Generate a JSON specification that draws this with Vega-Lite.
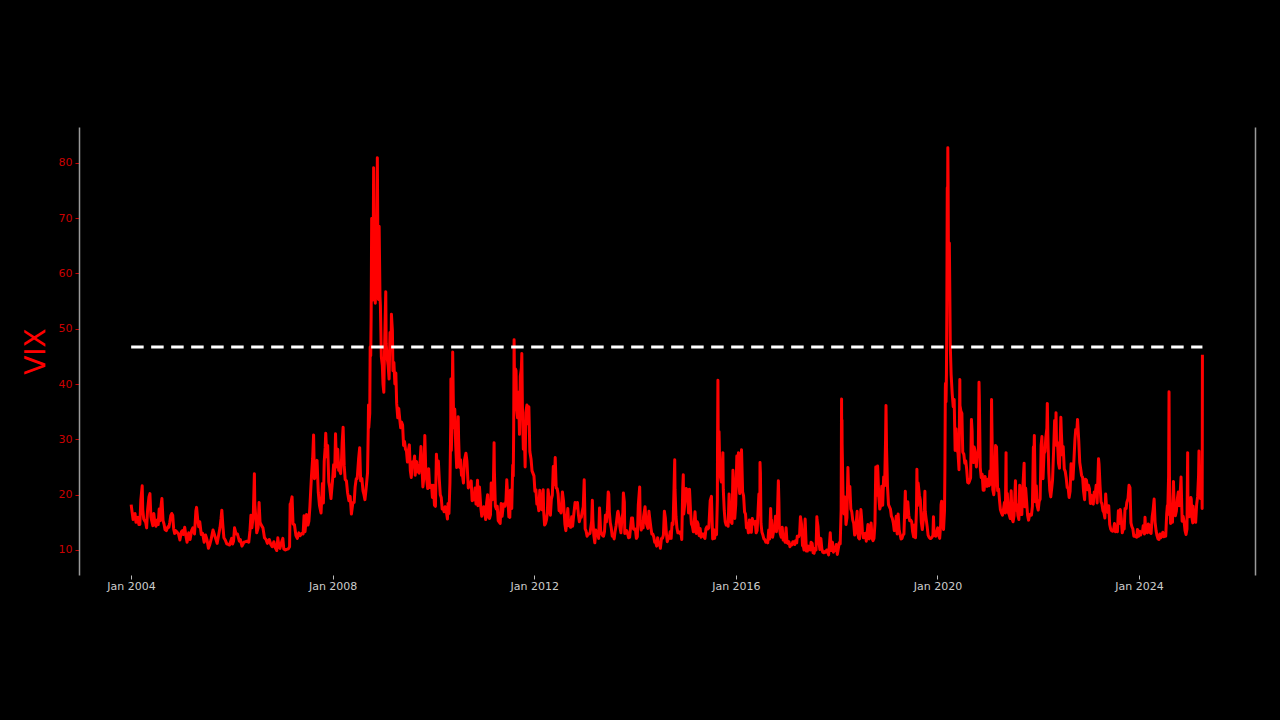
{
  "$schema": "https://vega.github.io/schema/vega-lite/v6.json",
  "autosize": "none",
  "width": 1176,
  "height": 448,
  "padding": {"left": 79, "top": 127, "right": 25, "bottom": 145},
  "background": "black",
  "config": {"view": {"stroke": null}},
  "datasets": {
    "vix": [
{"d":"2004-01-02","v":18.2},{"d":"2004-01-09","v":16.8},{"d":"2004-01-16","v":15.5},{"d":"2004-01-23","v":16.5},{"d":"2004-01-30","v":16.6},{"d":"2004-02-06","v":15.0},{"d":"2004-02-13","v":15.6},{"d":"2004-02-20","v":15.9},{"d":"2004-02-27","v":14.6},{"d":"2004-03-05","v":14.6},{"d":"2004-03-12","v":19.0},{"d":"2004-03-22","v":21.6},{"d":"2004-03-26","v":17.3},{"d":"2004-04-02","v":15.6},{"d":"2004-04-09","v":15.3},{"d":"2004-04-16","v":15.0},{"d":"2004-04-23","v":14.0},{"d":"2004-04-30","v":17.2},{"d":"2004-05-10","v":19.6},{"d":"2004-05-17","v":20.2},{"d":"2004-05-24","v":16.0},{"d":"2004-05-28","v":15.5},{"d":"2004-06-07","v":14.4},{"d":"2004-06-14","v":16.6},{"d":"2004-06-21","v":15.0},{"d":"2004-06-30","v":14.3},{"d":"2004-07-09","v":15.4},{"d":"2004-07-16","v":14.6},{"d":"2004-07-23","v":17.4},{"d":"2004-07-30","v":15.3},{"d":"2004-08-06","v":18.1},{"d":"2004-08-12","v":19.3},{"d":"2004-08-20","v":15.3},{"d":"2004-08-27","v":14.7},{"d":"2004-09-03","v":13.7},{"d":"2004-09-13","v":13.5},{"d":"2004-09-24","v":14.2},{"d":"2004-10-01","v":14.1},{"d":"2004-10-08","v":15.0},{"d":"2004-10-15","v":16.2},{"d":"2004-10-22","v":16.6},{"d":"2004-10-29","v":16.3},{"d":"2004-11-05","v":13.8},{"d":"2004-11-12","v":13.0},{"d":"2004-11-19","v":13.5},{"d":"2004-11-30","v":13.2},{"d":"2004-12-10","v":12.9},{"d":"2004-12-20","v":11.8},{"d":"2004-12-31","v":13.3},
{"d":"2005-01-07","v":13.5},{"d":"2005-01-14","v":12.8},{"d":"2005-01-24","v":14.1},{"d":"2005-01-31","v":12.8},{"d":"2005-02-10","v":11.4},{"d":"2005-02-22","v":13.1},{"d":"2005-03-04","v":11.9},{"d":"2005-03-15","v":13.5},{"d":"2005-03-24","v":14.0},{"d":"2005-04-05","v":12.9},{"d":"2005-04-15","v":17.1},{"d":"2005-04-20","v":17.7},{"d":"2005-04-29","v":15.3},{"d":"2005-05-06","v":14.2},{"d":"2005-05-13","v":15.1},{"d":"2005-05-24","v":12.8},{"d":"2005-06-03","v":13.0},{"d":"2005-06-14","v":11.4},{"d":"2005-06-24","v":12.7},{"d":"2005-07-05","v":11.8},{"d":"2005-07-15","v":10.3},{"d":"2005-07-25","v":11.0},{"d":"2005-08-05","v":12.1},{"d":"2005-08-17","v":13.6},{"d":"2005-08-26","v":12.9},{"d":"2005-09-06","v":12.0},{"d":"2005-09-16","v":11.2},{"d":"2005-09-27","v":12.7},{"d":"2005-10-07","v":14.1},{"d":"2005-10-14","v":15.6},{"d":"2005-10-20","v":17.2},{"d":"2005-10-27","v":14.6},{"d":"2005-11-04","v":12.2},{"d":"2005-11-14","v":11.8},{"d":"2005-11-25","v":11.1},{"d":"2005-12-05","v":11.0},{"d":"2005-12-15","v":10.9},{"d":"2005-12-30","v":12.1},
{"d":"2006-01-06","v":11.1},{"d":"2006-01-13","v":11.6},{"d":"2006-01-20","v":14.0},{"d":"2006-01-31","v":12.9},{"d":"2006-02-10","v":12.9},{"d":"2006-02-24","v":11.6},{"d":"2006-03-03","v":11.9},{"d":"2006-03-15","v":10.7},{"d":"2006-03-29","v":11.4},{"d":"2006-04-10","v":11.5},{"d":"2006-04-21","v":11.6},{"d":"2006-05-03","v":11.4},{"d":"2006-05-12","v":13.5},{"d":"2006-05-19","v":16.3},{"d":"2006-05-26","v":14.0},{"d":"2006-06-05","v":16.3},{"d":"2006-06-13","v":23.8},{"d":"2006-06-16","v":18.3},{"d":"2006-06-23","v":15.9},{"d":"2006-06-30","v":13.1},{"d":"2006-07-10","v":14.0},{"d":"2006-07-17","v":18.6},{"d":"2006-07-24","v":15.0},{"d":"2006-08-04","v":14.4},{"d":"2006-08-14","v":14.0},{"d":"2006-08-25","v":12.2},{"d":"2006-09-05","v":11.9},{"d":"2006-09-15","v":11.2},{"d":"2006-09-29","v":11.9},{"d":"2006-10-10","v":11.0},{"d":"2006-10-20","v":10.6},{"d":"2006-11-01","v":11.5},{"d":"2006-11-10","v":10.5},{"d":"2006-11-22","v":9.9},{"d":"2006-11-30","v":12.2},{"d":"2006-12-08","v":10.6},{"d":"2006-12-15","v":10.3},{"d":"2006-12-29","v":11.6},
{"d":"2007-01-05","v":12.1},{"d":"2007-01-12","v":10.2},{"d":"2007-01-24","v":10.0},{"d":"2007-02-02","v":10.1},{"d":"2007-02-14","v":10.2},{"d":"2007-02-23","v":10.6},{"d":"2007-02-27","v":18.3},{"d":"2007-03-05","v":18.6},{"d":"2007-03-13","v":19.6},{"d":"2007-03-20","v":14.7},{"d":"2007-03-30","v":14.6},{"d":"2007-04-10","v":12.6},{"d":"2007-04-20","v":12.1},{"d":"2007-05-01","v":13.1},{"d":"2007-05-11","v":12.6},{"d":"2007-05-23","v":13.0},{"d":"2007-06-01","v":12.9},{"d":"2007-06-08","v":16.2},{"d":"2007-06-15","v":13.3},{"d":"2007-06-26","v":16.4},{"d":"2007-07-06","v":14.5},{"d":"2007-07-13","v":15.2},{"d":"2007-07-20","v":17.7},{"d":"2007-07-26","v":20.7},{"d":"2007-08-01","v":23.5},{"d":"2007-08-09","v":26.5},{"d":"2007-08-16","v":30.8},{"d":"2007-08-22","v":22.9},{"d":"2007-08-31","v":23.4},{"d":"2007-09-10","v":26.2},{"d":"2007-09-19","v":20.4},{"d":"2007-09-28","v":18.0},{"d":"2007-10-09","v":16.7},{"d":"2007-10-19","v":22.0},{"d":"2007-10-26","v":18.5},{"d":"2007-11-01","v":26.0},{"d":"2007-11-08","v":28.5},{"d":"2007-11-12","v":31.1},{"d":"2007-11-20","v":26.8},{"d":"2007-11-26","v":28.9},{"d":"2007-12-04","v":22.3},{"d":"2007-12-11","v":21.3},{"d":"2007-12-20","v":19.3},{"d":"2007-12-31","v":22.5},
{"d":"2008-01-08","v":25.4},{"d":"2008-01-15","v":23.3},{"d":"2008-01-22","v":31.0},{"d":"2008-01-29","v":25.0},{"d":"2008-02-07","v":28.2},{"d":"2008-02-14","v":24.4},{"d":"2008-02-21","v":24.4},{"d":"2008-02-28","v":23.8},{"d":"2008-03-06","v":26.6},{"d":"2008-03-10","v":29.4},{"d":"2008-03-17","v":32.2},{"d":"2008-03-25","v":25.2},{"d":"2008-04-01","v":22.7},{"d":"2008-04-10","v":22.5},{"d":"2008-04-18","v":20.4},{"d":"2008-04-28","v":18.9},{"d":"2008-05-07","v":19.7},{"d":"2008-05-16","v":16.5},{"d":"2008-05-27","v":18.6},{"d":"2008-06-05","v":18.6},{"d":"2008-06-12","v":21.4},{"d":"2008-06-20","v":22.9},{"d":"2008-06-27","v":22.9},{"d":"2008-07-07","v":26.4},{"d":"2008-07-15","v":28.5},{"d":"2008-07-22","v":22.5},{"d":"2008-07-31","v":22.9},{"d":"2008-08-08","v":20.7},{"d":"2008-08-15","v":20.0},{"d":"2008-08-22","v":19.1},{"d":"2008-08-29","v":20.7},{"d":"2008-09-05","v":22.6},{"d":"2008-09-10","v":24.0},{"d":"2008-09-15","v":31.7},{"d":"2008-09-17","v":36.2},{"d":"2008-09-19","v":32.1},{"d":"2008-09-26","v":34.7},{"d":"2008-09-29","v":46.7},{"d":"2008-10-03","v":45.1},{"d":"2008-10-06","v":52.1},{"d":"2008-10-10","v":69.9},{"d":"2008-10-14","v":55.1},{"d":"2008-10-16","v":67.6},{"d":"2008-10-22","v":69.7},{"d":"2008-10-24","v":79.1},{"d":"2008-10-28","v":66.9},{"d":"2008-10-31","v":59.9},{"d":"2008-11-05","v":54.6},{"d":"2008-11-07","v":56.1},{"d":"2008-11-12","v":66.5},{"d":"2008-11-17","v":67.6},{"d":"2008-11-20","v":80.9},{"d":"2008-11-24","v":64.7},{"d":"2008-11-28","v":55.3},{"d":"2008-12-03","v":68.5},{"d":"2008-12-09","v":55.9},{"d":"2008-12-12","v":54.3},{"d":"2008-12-19","v":44.9},{"d":"2008-12-26","v":43.4},{"d":"2008-12-31","v":40.0},
{"d":"2009-01-06","v":38.5},{"d":"2009-01-09","v":43.3},{"d":"2009-01-15","v":51.0},{"d":"2009-01-20","v":56.7},{"d":"2009-01-23","v":47.3},{"d":"2009-01-30","v":44.8},{"d":"2009-02-06","v":43.4},{"d":"2009-02-13","v":40.9},{"d":"2009-02-20","v":49.3},{"d":"2009-02-27","v":46.4},{"d":"2009-03-02","v":52.6},{"d":"2009-03-09","v":49.7},{"d":"2009-03-13","v":42.4},{"d":"2009-03-20","v":43.9},{"d":"2009-03-27","v":40.0},{"d":"2009-04-03","v":42.0},{"d":"2009-04-09","v":36.5},{"d":"2009-04-17","v":33.9},{"d":"2009-04-24","v":35.6},{"d":"2009-05-01","v":33.7},{"d":"2009-05-08","v":32.1},{"d":"2009-05-15","v":33.1},{"d":"2009-05-22","v":32.6},{"d":"2009-05-29","v":28.9},{"d":"2009-06-05","v":29.6},{"d":"2009-06-12","v":28.2},{"d":"2009-06-19","v":27.9},{"d":"2009-06-26","v":25.9},{"d":"2009-07-02","v":27.9},{"d":"2009-07-10","v":29.0},{"d":"2009-07-17","v":24.3},{"d":"2009-07-24","v":23.1},{"d":"2009-07-31","v":25.9},{"d":"2009-08-07","v":25.0},{"d":"2009-08-17","v":27.0},{"d":"2009-08-21","v":23.5},{"d":"2009-08-31","v":26.0},{"d":"2009-09-04","v":25.3},{"d":"2009-09-11","v":24.2},{"d":"2009-09-18","v":23.9},{"d":"2009-09-25","v":25.6},{"d":"2009-10-02","v":28.7},{"d":"2009-10-09","v":25.3},{"d":"2009-10-16","v":21.4},{"d":"2009-10-23","v":23.1},{"d":"2009-10-30","v":30.7},{"d":"2009-11-06","v":24.2},{"d":"2009-11-13","v":22.7},{"d":"2009-11-20","v":21.1},{"d":"2009-11-27","v":24.7},{"d":"2009-12-04","v":21.3},{"d":"2009-12-11","v":21.6},{"d":"2009-12-18","v":21.7},{"d":"2009-12-24","v":19.5},{"d":"2009-12-31","v":21.7},
{"d":"2010-01-08","v":18.1},{"d":"2010-01-15","v":17.9},{"d":"2010-01-22","v":27.3},{"d":"2010-01-29","v":24.6},{"d":"2010-02-05","v":26.1},{"d":"2010-02-12","v":22.7},{"d":"2010-02-19","v":20.0},{"d":"2010-02-26","v":19.5},{"d":"2010-03-05","v":17.4},{"d":"2010-03-12","v":17.6},{"d":"2010-03-19","v":16.9},{"d":"2010-03-26","v":17.8},{"d":"2010-04-01","v":17.5},{"d":"2010-04-12","v":15.6},{"d":"2010-04-16","v":18.4},{"d":"2010-04-23","v":16.6},{"d":"2010-04-30","v":22.1},{"d":"2010-05-06","v":32.8},{"d":"2010-05-07","v":40.9},{"d":"2010-05-10","v":28.0},{"d":"2010-05-14","v":31.2},{"d":"2010-05-20","v":45.8},{"d":"2010-05-24","v":37.9},{"d":"2010-05-28","v":32.1},{"d":"2010-06-04","v":35.5},{"d":"2010-06-11","v":28.8},{"d":"2010-06-18","v":24.9},{"d":"2010-06-29","v":34.1},{"d":"2010-07-02","v":30.1},{"d":"2010-07-09","v":24.9},{"d":"2010-07-16","v":26.3},{"d":"2010-07-23","v":23.5},{"d":"2010-07-30","v":23.5},{"d":"2010-08-06","v":22.1},{"d":"2010-08-13","v":26.2},{"d":"2010-08-24","v":27.5},{"d":"2010-08-31","v":26.1},{"d":"2010-09-10","v":21.2},{"d":"2010-09-17","v":21.7},{"d":"2010-09-24","v":21.7},{"d":"2010-10-01","v":22.5},{"d":"2010-10-08","v":18.9},{"d":"2010-10-15","v":19.1},{"d":"2010-10-22","v":19.1},{"d":"2010-10-29","v":21.2},{"d":"2010-11-05","v":18.3},{"d":"2010-11-16","v":22.6},{"d":"2010-11-19","v":18.0},{"d":"2010-11-30","v":21.4},{"d":"2010-12-10","v":17.6},{"d":"2010-12-17","v":16.1},{"d":"2010-12-31","v":17.8},
{"d":"2011-01-07","v":17.1},{"d":"2011-01-14","v":15.5},{"d":"2011-01-21","v":18.5},{"d":"2011-01-28","v":20.0},{"d":"2011-02-04","v":15.9},{"d":"2011-02-11","v":15.7},{"d":"2011-02-18","v":16.4},{"d":"2011-02-23","v":22.1},{"d":"2011-03-04","v":19.1},{"d":"2011-03-11","v":21.9},{"d":"2011-03-16","v":29.4},{"d":"2011-03-18","v":24.4},{"d":"2011-03-25","v":17.9},{"d":"2011-04-01","v":17.4},{"d":"2011-04-08","v":17.9},{"d":"2011-04-15","v":15.3},{"d":"2011-04-29","v":14.8},{"d":"2011-05-06","v":18.4},{"d":"2011-05-13","v":16.1},{"d":"2011-05-23","v":18.3},{"d":"2011-06-03","v":17.9},{"d":"2011-06-10","v":18.9},{"d":"2011-06-16","v":22.7},{"d":"2011-06-24","v":19.1},{"d":"2011-07-01","v":16.0},{"d":"2011-07-08","v":15.9},{"d":"2011-07-12","v":20.8},{"d":"2011-07-22","v":17.5},{"d":"2011-07-29","v":25.3},{"d":"2011-08-02","v":23.4},{"d":"2011-08-05","v":32.0},{"d":"2011-08-08","v":48.0},{"d":"2011-08-10","v":42.9},{"d":"2011-08-12","v":36.4},{"d":"2011-08-18","v":42.7},{"d":"2011-08-22","v":42.4},{"d":"2011-08-26","v":35.6},{"d":"2011-09-02","v":33.9},{"d":"2011-09-09","v":38.5},{"d":"2011-09-16","v":30.9},{"d":"2011-09-22","v":41.4},{"d":"2011-09-30","v":42.9},{"d":"2011-10-03","v":45.5},{"d":"2011-10-07","v":36.2},{"d":"2011-10-14","v":28.2},{"d":"2011-10-21","v":31.3},{"d":"2011-10-27","v":25.0},{"d":"2011-11-01","v":34.8},{"d":"2011-11-09","v":36.2},{"d":"2011-11-16","v":32.8},{"d":"2011-11-23","v":35.9},{"d":"2011-11-30","v":27.8},{"d":"2011-12-09","v":26.4},{"d":"2011-12-16","v":24.3},{"d":"2011-12-30","v":23.4},
{"d":"2012-01-06","v":20.6},{"d":"2012-01-13","v":20.9},{"d":"2012-01-20","v":18.3},{"d":"2012-01-27","v":18.5},{"d":"2012-02-03","v":17.1},{"d":"2012-02-10","v":20.8},{"d":"2012-02-17","v":17.8},{"d":"2012-02-24","v":17.3},{"d":"2012-03-06","v":20.9},{"d":"2012-03-09","v":17.1},{"d":"2012-03-16","v":14.5},{"d":"2012-03-23","v":14.8},{"d":"2012-03-30","v":15.5},{"d":"2012-04-05","v":16.7},{"d":"2012-04-10","v":20.9},{"d":"2012-04-16","v":19.6},{"d":"2012-04-27","v":16.3},{"d":"2012-05-04","v":19.2},{"d":"2012-05-11","v":19.9},{"d":"2012-05-18","v":25.1},{"d":"2012-05-25","v":21.8},{"d":"2012-06-01","v":26.7},{"d":"2012-06-08","v":21.2},{"d":"2012-06-15","v":21.1},{"d":"2012-06-22","v":20.1},{"d":"2012-06-29","v":17.1},{"d":"2012-07-06","v":17.1},{"d":"2012-07-13","v":16.7},{"d":"2012-07-23","v":20.5},{"d":"2012-07-31","v":18.9},{"d":"2012-08-10","v":14.7},{"d":"2012-08-17","v":13.5},{"d":"2012-08-24","v":15.2},{"d":"2012-08-31","v":17.5},{"d":"2012-09-07","v":14.4},{"d":"2012-09-14","v":14.5},{"d":"2012-09-21","v":14.1},{"d":"2012-09-28","v":16.0},{"d":"2012-10-05","v":14.3},{"d":"2012-10-12","v":16.1},{"d":"2012-10-23","v":18.6},{"d":"2012-10-26","v":17.8},{"d":"2012-11-02","v":17.6},{"d":"2012-11-09","v":18.6},{"d":"2012-11-16","v":16.4},{"d":"2012-11-23","v":15.1},{"d":"2012-11-30","v":15.9},{"d":"2012-12-07","v":15.9},{"d":"2012-12-14","v":17.0},{"d":"2012-12-21","v":17.8},{"d":"2012-12-28","v":22.7},
{"d":"2013-01-04","v":13.8},{"d":"2013-01-11","v":13.4},{"d":"2013-01-18","v":12.5},{"d":"2013-01-25","v":12.9},{"d":"2013-02-01","v":12.9},{"d":"2013-02-08","v":13.0},{"d":"2013-02-20","v":15.2},{"d":"2013-02-25","v":19.0},{"d":"2013-03-01","v":15.4},{"d":"2013-03-08","v":12.6},{"d":"2013-03-15","v":11.3},{"d":"2013-03-22","v":13.6},{"d":"2013-03-28","v":12.7},{"d":"2013-04-05","v":12.9},{"d":"2013-04-12","v":12.1},{"d":"2013-04-18","v":17.6},{"d":"2013-04-26","v":13.6},{"d":"2013-05-03","v":12.9},{"d":"2013-05-10","v":12.6},{"d":"2013-05-17","v":12.5},{"d":"2013-05-24","v":13.3},{"d":"2013-05-31","v":16.3},{"d":"2013-06-07","v":15.1},{"d":"2013-06-14","v":17.2},{"d":"2013-06-20","v":20.5},{"d":"2013-06-24","v":20.1},{"d":"2013-06-28","v":16.9},{"d":"2013-07-05","v":14.9},{"d":"2013-07-12","v":14.0},{"d":"2013-07-19","v":12.5},{"d":"2013-07-26","v":12.7},{"d":"2013-08-02","v":12.0},{"d":"2013-08-09","v":13.4},{"d":"2013-08-16","v":14.4},{"d":"2013-08-27","v":16.8},{"d":"2013-08-30","v":17.0},{"d":"2013-09-06","v":15.9},{"d":"2013-09-13","v":14.2},{"d":"2013-09-20","v":13.1},{"d":"2013-09-27","v":15.5},{"d":"2013-10-04","v":16.7},{"d":"2013-10-08","v":20.3},{"d":"2013-10-15","v":18.7},{"d":"2013-10-18","v":13.0},{"d":"2013-10-25","v":13.1},{"d":"2013-11-01","v":13.5},{"d":"2013-11-08","v":12.9},{"d":"2013-11-15","v":12.2},{"d":"2013-11-22","v":12.3},{"d":"2013-12-06","v":15.8},{"d":"2013-12-13","v":15.8},{"d":"2013-12-20","v":13.8},{"d":"2013-12-31","v":13.7},
{"d":"2014-01-03","v":13.8},{"d":"2014-01-10","v":12.1},{"d":"2014-01-17","v":12.4},{"d":"2014-01-24","v":18.1},{"d":"2014-02-03","v":21.4},{"d":"2014-02-07","v":15.3},{"d":"2014-02-14","v":13.6},{"d":"2014-02-21","v":14.7},{"d":"2014-02-28","v":14.0},{"d":"2014-03-03","v":16.0},{"d":"2014-03-14","v":17.8},{"d":"2014-03-21","v":15.0},{"d":"2014-03-28","v":14.4},{"d":"2014-04-04","v":13.9},{"d":"2014-04-11","v":17.0},{"d":"2014-04-15","v":16.1},{"d":"2014-04-25","v":14.1},{"d":"2014-05-02","v":12.9},{"d":"2014-05-09","v":12.9},{"d":"2014-05-16","v":12.4},{"d":"2014-05-23","v":11.4},{"d":"2014-05-30","v":11.4},{"d":"2014-06-06","v":10.7},{"d":"2014-06-13","v":12.2},{"d":"2014-06-20","v":10.9},{"d":"2014-06-27","v":11.3},{"d":"2014-07-03","v":10.3},{"d":"2014-07-11","v":12.1},{"d":"2014-07-18","v":12.1},{"d":"2014-07-25","v":12.7},{"d":"2014-08-01","v":17.0},{"d":"2014-08-08","v":15.8},{"d":"2014-08-15","v":13.2},{"d":"2014-08-22","v":11.5},{"d":"2014-08-29","v":12.1},{"d":"2014-09-05","v":12.1},{"d":"2014-09-12","v":13.3},{"d":"2014-09-19","v":12.1},{"d":"2014-09-26","v":14.9},{"d":"2014-10-03","v":14.6},{"d":"2014-10-10","v":21.2},{"d":"2014-10-15","v":26.3},{"d":"2014-10-17","v":21.0},{"d":"2014-10-24","v":16.1},{"d":"2014-10-31","v":14.0},{"d":"2014-11-07","v":13.1},{"d":"2014-11-14","v":13.3},{"d":"2014-11-21","v":13.0},{"d":"2014-11-28","v":13.3},{"d":"2014-12-05","v":11.9},{"d":"2014-12-12","v":21.1},{"d":"2014-12-16","v":23.6},{"d":"2014-12-19","v":16.5},{"d":"2014-12-31","v":19.2},
{"d":"2015-01-06","v":21.1},{"d":"2015-01-13","v":20.6},{"d":"2015-01-16","v":20.9},{"d":"2015-01-23","v":16.7},{"d":"2015-01-30","v":21.0},{"d":"2015-02-06","v":17.3},{"d":"2015-02-13","v":14.7},{"d":"2015-02-20","v":14.3},{"d":"2015-02-27","v":13.3},{"d":"2015-03-06","v":15.2},{"d":"2015-03-11","v":16.9},{"d":"2015-03-20","v":13.0},{"d":"2015-03-27","v":15.1},{"d":"2015-04-02","v":14.7},{"d":"2015-04-10","v":12.6},{"d":"2015-04-17","v":13.9},{"d":"2015-04-24","v":12.3},{"d":"2015-05-01","v":12.7},{"d":"2015-05-08","v":12.9},{"d":"2015-05-15","v":12.4},{"d":"2015-05-22","v":12.1},{"d":"2015-05-29","v":13.8},{"d":"2015-06-05","v":14.2},{"d":"2015-06-12","v":13.8},{"d":"2015-06-19","v":14.0},{"d":"2015-06-29","v":18.9},{"d":"2015-07-08","v":19.7},{"d":"2015-07-17","v":12.0},{"d":"2015-07-24","v":13.7},{"d":"2015-07-31","v":12.1},{"d":"2015-08-07","v":13.4},{"d":"2015-08-14","v":12.8},{"d":"2015-08-20","v":19.1},{"d":"2015-08-21","v":28.0},{"d":"2015-08-24","v":40.7},{"d":"2015-08-26","v":30.3},{"d":"2015-08-28","v":26.1},{"d":"2015-09-01","v":31.4},{"d":"2015-09-04","v":27.8},{"d":"2015-09-11","v":23.2},{"d":"2015-09-18","v":22.3},{"d":"2015-09-25","v":23.6},{"d":"2015-09-29","v":27.6},{"d":"2015-10-02","v":20.9},{"d":"2015-10-09","v":17.1},{"d":"2015-10-16","v":15.1},{"d":"2015-10-23","v":14.5},{"d":"2015-10-30","v":15.1},{"d":"2015-11-06","v":14.3},{"d":"2015-11-13","v":20.1},{"d":"2015-11-20","v":15.5},{"d":"2015-11-27","v":15.1},{"d":"2015-12-04","v":14.8},{"d":"2015-12-11","v":24.4},{"d":"2015-12-14","v":22.7},{"d":"2015-12-18","v":20.7},{"d":"2015-12-24","v":15.7},{"d":"2015-12-31","v":18.2},
{"d":"2016-01-08","v":27.0},{"d":"2016-01-15","v":24.0},{"d":"2016-01-20","v":27.6},{"d":"2016-01-22","v":22.3},{"d":"2016-01-29","v":20.2},{"d":"2016-02-05","v":23.4},{"d":"2016-02-11","v":28.1},{"d":"2016-02-19","v":20.5},{"d":"2016-02-26","v":19.8},{"d":"2016-03-04","v":16.9},{"d":"2016-03-11","v":16.5},{"d":"2016-03-18","v":14.0},{"d":"2016-03-24","v":14.7},{"d":"2016-04-01","v":13.1},{"d":"2016-04-08","v":15.4},{"d":"2016-04-15","v":13.6},{"d":"2016-04-22","v":13.2},{"d":"2016-04-29","v":15.7},{"d":"2016-05-06","v":14.7},{"d":"2016-05-13","v":15.0},{"d":"2016-05-20","v":15.2},{"d":"2016-05-27","v":13.1},{"d":"2016-06-03","v":13.5},{"d":"2016-06-10","v":17.0},{"d":"2016-06-16","v":20.1},{"d":"2016-06-23","v":17.3},{"d":"2016-06-24","v":25.8},{"d":"2016-06-27","v":23.9},{"d":"2016-07-01","v":14.8},{"d":"2016-07-08","v":13.2},{"d":"2016-07-15","v":12.7},{"d":"2016-07-22","v":12.0},{"d":"2016-07-29","v":11.9},{"d":"2016-08-05","v":11.4},{"d":"2016-08-12","v":11.6},{"d":"2016-08-19","v":11.3},{"d":"2016-08-26","v":13.6},{"d":"2016-09-02","v":12.0},{"d":"2016-09-09","v":17.5},{"d":"2016-09-12","v":15.2},{"d":"2016-09-16","v":15.4},{"d":"2016-09-23","v":12.3},{"d":"2016-09-30","v":13.3},{"d":"2016-10-07","v":13.5},{"d":"2016-10-14","v":16.1},{"d":"2016-10-21","v":13.3},{"d":"2016-10-28","v":16.2},{"d":"2016-11-04","v":22.5},{"d":"2016-11-08","v":18.7},{"d":"2016-11-11","v":14.2},{"d":"2016-11-18","v":12.9},{"d":"2016-11-25","v":12.3},{"d":"2016-12-02","v":14.1},{"d":"2016-12-09","v":11.8},{"d":"2016-12-16","v":12.2},{"d":"2016-12-23","v":11.4},{"d":"2016-12-30","v":14.0},
{"d":"2017-01-06","v":11.3},{"d":"2017-01-13","v":11.2},{"d":"2017-01-20","v":11.5},{"d":"2017-01-27","v":10.6},{"d":"2017-02-03","v":11.0},{"d":"2017-02-10","v":10.9},{"d":"2017-02-17","v":11.5},{"d":"2017-02-24","v":11.5},{"d":"2017-03-03","v":11.0},{"d":"2017-03-10","v":11.7},{"d":"2017-03-17","v":11.3},{"d":"2017-03-21","v":12.5},{"d":"2017-03-31","v":12.4},{"d":"2017-04-07","v":12.9},{"d":"2017-04-13","v":16.0},{"d":"2017-04-21","v":14.6},{"d":"2017-04-28","v":10.8},{"d":"2017-05-05","v":10.6},{"d":"2017-05-09","v":10.0},{"d":"2017-05-17","v":15.6},{"d":"2017-05-26","v":9.8},{"d":"2017-06-02","v":9.8},{"d":"2017-06-09","v":10.7},{"d":"2017-06-16","v":10.4},{"d":"2017-06-23","v":10.0},{"d":"2017-06-29","v":11.4},{"d":"2017-07-07","v":11.2},{"d":"2017-07-14","v":9.5},{"d":"2017-07-21","v":9.4},{"d":"2017-07-28","v":10.3},{"d":"2017-08-04","v":10.0},{"d":"2017-08-10","v":16.0},{"d":"2017-08-11","v":15.5},{"d":"2017-08-18","v":14.3},{"d":"2017-08-25","v":11.3},{"d":"2017-09-01","v":10.1},{"d":"2017-09-08","v":12.1},{"d":"2017-09-15","v":10.2},{"d":"2017-09-22","v":9.6},{"d":"2017-09-29","v":9.5},{"d":"2017-10-06","v":9.7},{"d":"2017-10-13","v":9.6},{"d":"2017-10-20","v":10.0},{"d":"2017-10-27","v":9.8},{"d":"2017-11-03","v":9.1},{"d":"2017-11-10","v":11.3},{"d":"2017-11-15","v":13.1},{"d":"2017-11-22","v":9.9},{"d":"2017-12-01","v":11.4},{"d":"2017-12-08","v":9.6},{"d":"2017-12-15","v":10.5},{"d":"2017-12-22","v":9.9},{"d":"2017-12-29","v":11.0},
{"d":"2018-01-05","v":9.2},{"d":"2018-01-12","v":10.2},{"d":"2018-01-19","v":11.3},{"d":"2018-01-26","v":11.1},{"d":"2018-02-02","v":17.3},{"d":"2018-02-05","v":37.3},{"d":"2018-02-06","v":30.0},{"d":"2018-02-08","v":33.5},{"d":"2018-02-09","v":29.1},{"d":"2018-02-16","v":19.5},{"d":"2018-02-23","v":16.5},{"d":"2018-03-02","v":19.6},{"d":"2018-03-09","v":14.6},{"d":"2018-03-16","v":15.8},{"d":"2018-03-23","v":24.9},{"d":"2018-03-29","v":20.0},{"d":"2018-04-06","v":21.5},{"d":"2018-04-13","v":17.4},{"d":"2018-04-20","v":16.9},{"d":"2018-04-27","v":15.4},{"d":"2018-05-04","v":14.8},{"d":"2018-05-11","v":12.7},{"d":"2018-05-18","v":13.4},{"d":"2018-05-29","v":17.0},{"d":"2018-06-01","v":13.5},{"d":"2018-06-08","v":12.2},{"d":"2018-06-15","v":12.0},{"d":"2018-06-25","v":17.3},{"d":"2018-06-29","v":16.1},{"d":"2018-07-06","v":13.4},{"d":"2018-07-13","v":12.2},{"d":"2018-07-20","v":12.9},{"d":"2018-07-27","v":13.0},{"d":"2018-08-03","v":11.6},{"d":"2018-08-10","v":13.2},{"d":"2018-08-15","v":14.6},{"d":"2018-08-24","v":12.0},{"d":"2018-08-31","v":12.9},{"d":"2018-09-07","v":14.9},{"d":"2018-09-14","v":12.1},{"d":"2018-09-21","v":11.7},{"d":"2018-09-28","v":12.1},{"d":"2018-10-05","v":14.8},{"d":"2018-10-11","v":25.0},{"d":"2018-10-12","v":21.3},{"d":"2018-10-19","v":19.9},{"d":"2018-10-24","v":25.2},{"d":"2018-10-26","v":24.2},{"d":"2018-11-02","v":19.5},{"d":"2018-11-09","v":17.4},{"d":"2018-11-16","v":18.1},{"d":"2018-11-23","v":21.5},{"d":"2018-11-30","v":18.1},{"d":"2018-12-07","v":23.2},{"d":"2018-12-14","v":21.6},{"d":"2018-12-21","v":30.1},{"d":"2018-12-24","v":36.1},{"d":"2018-12-28","v":28.3},
{"d":"2019-01-04","v":21.4},{"d":"2019-01-11","v":18.2},{"d":"2019-01-18","v":17.8},{"d":"2019-01-25","v":17.4},{"d":"2019-02-01","v":16.1},{"d":"2019-02-08","v":15.7},{"d":"2019-02-15","v":14.9},{"d":"2019-02-22","v":13.5},{"d":"2019-03-01","v":13.6},{"d":"2019-03-08","v":16.1},{"d":"2019-03-15","v":12.9},{"d":"2019-03-22","v":16.5},{"d":"2019-03-29","v":13.7},{"d":"2019-04-05","v":12.8},{"d":"2019-04-12","v":12.0},{"d":"2019-04-19","v":12.1},{"d":"2019-04-26","v":12.7},{"d":"2019-05-03","v":12.9},{"d":"2019-05-13","v":20.6},{"d":"2019-05-17","v":16.0},{"d":"2019-05-24","v":15.9},{"d":"2019-05-31","v":18.7},{"d":"2019-06-07","v":16.3},{"d":"2019-06-14","v":15.3},{"d":"2019-06-21","v":15.4},{"d":"2019-06-28","v":15.1},{"d":"2019-07-05","v":13.3},{"d":"2019-07-12","v":12.4},{"d":"2019-07-19","v":14.5},{"d":"2019-07-26","v":12.2},{"d":"2019-08-02","v":17.6},{"d":"2019-08-05","v":24.6},{"d":"2019-08-09","v":18.0},{"d":"2019-08-14","v":22.1},{"d":"2019-08-23","v":19.9},{"d":"2019-08-30","v":19.0},{"d":"2019-09-06","v":15.0},{"d":"2019-09-13","v":13.7},{"d":"2019-09-20","v":15.3},{"d":"2019-09-27","v":17.2},{"d":"2019-10-02","v":20.6},{"d":"2019-10-04","v":17.0},{"d":"2019-10-11","v":15.6},{"d":"2019-10-18","v":14.3},{"d":"2019-10-25","v":12.7},{"d":"2019-11-01","v":12.3},{"d":"2019-11-08","v":12.1},{"d":"2019-11-15","v":12.1},{"d":"2019-11-22","v":12.3},{"d":"2019-11-29","v":12.6},{"d":"2019-12-03","v":16.0},{"d":"2019-12-06","v":13.6},{"d":"2019-12-13","v":12.6},{"d":"2019-12-20","v":12.5},{"d":"2019-12-31","v":13.8},
{"d":"2020-01-03","v":14.0},{"d":"2020-01-10","v":12.6},{"d":"2020-01-17","v":12.1},{"d":"2020-01-24","v":14.6},{"d":"2020-01-27","v":18.2},{"d":"2020-01-31","v":18.8},{"d":"2020-02-07","v":15.5},{"d":"2020-02-14","v":13.7},{"d":"2020-02-21","v":17.1},{"d":"2020-02-24","v":25.0},{"d":"2020-02-27","v":39.2},{"d":"2020-02-28","v":40.1},{"d":"2020-03-03","v":36.8},{"d":"2020-03-06","v":41.9},{"d":"2020-03-09","v":54.5},{"d":"2020-03-12","v":75.5},{"d":"2020-03-13","v":57.8},{"d":"2020-03-16","v":82.7},{"d":"2020-03-18","v":76.5},{"d":"2020-03-20","v":66.0},{"d":"2020-03-24","v":61.7},{"d":"2020-03-27","v":65.5},{"d":"2020-04-03","v":46.8},{"d":"2020-04-09","v":41.7},{"d":"2020-04-17","v":38.2},{"d":"2020-04-24","v":35.9},{"d":"2020-05-01","v":37.2},{"d":"2020-05-08","v":28.0},{"d":"2020-05-15","v":31.9},{"d":"2020-05-22","v":28.2},{"d":"2020-05-29","v":27.5},{"d":"2020-06-05","v":24.5},{"d":"2020-06-11","v":40.8},{"d":"2020-06-12","v":36.1},{"d":"2020-06-19","v":35.1},{"d":"2020-06-26","v":34.7},{"d":"2020-07-02","v":27.7},{"d":"2020-07-10","v":27.3},{"d":"2020-07-17","v":25.7},{"d":"2020-07-24","v":26.1},{"d":"2020-07-31","v":24.5},{"d":"2020-08-07","v":22.2},{"d":"2020-08-14","v":22.1},{"d":"2020-08-21","v":22.5},{"d":"2020-08-28","v":23.0},{"d":"2020-09-03","v":33.6},{"d":"2020-09-08","v":31.5},{"d":"2020-09-11","v":26.9},{"d":"2020-09-18","v":25.8},{"d":"2020-09-23","v":28.6},{"d":"2020-10-02","v":27.6},{"d":"2020-10-09","v":25.0},{"d":"2020-10-16","v":27.4},{"d":"2020-10-23","v":27.6},{"d":"2020-10-28","v":40.3},{"d":"2020-10-30","v":38.0},{"d":"2020-11-06","v":24.9},{"d":"2020-11-13","v":23.1},{"d":"2020-11-20","v":23.7},{"d":"2020-11-27","v":20.8},{"d":"2020-12-04","v":20.8},{"d":"2020-12-11","v":23.3},{"d":"2020-12-18","v":21.6},{"d":"2020-12-24","v":21.5},{"d":"2020-12-31","v":22.8},
{"d":"2021-01-08","v":21.6},{"d":"2021-01-15","v":24.3},{"d":"2021-01-22","v":21.9},{"d":"2021-01-27","v":37.2},{"d":"2021-01-29","v":33.1},{"d":"2021-02-05","v":20.9},{"d":"2021-02-12","v":20.0},{"d":"2021-02-19","v":22.1},{"d":"2021-02-25","v":28.9},{"d":"2021-03-04","v":28.6},{"d":"2021-03-12","v":20.7},{"d":"2021-03-19","v":21.0},{"d":"2021-03-26","v":18.9},{"d":"2021-04-01","v":17.3},{"d":"2021-04-09","v":16.7},{"d":"2021-04-16","v":16.3},{"d":"2021-04-23","v":17.3},{"d":"2021-04-30","v":18.6},{"d":"2021-05-07","v":16.7},{"d":"2021-05-12","v":27.6},{"d":"2021-05-14","v":18.8},{"d":"2021-05-21","v":20.2},{"d":"2021-05-28","v":16.8},{"d":"2021-06-04","v":16.4},{"d":"2021-06-11","v":15.7},{"d":"2021-06-18","v":20.7},{"d":"2021-06-25","v":15.6},{"d":"2021-07-02","v":15.1},{"d":"2021-07-09","v":16.2},{"d":"2021-07-19","v":22.5},{"d":"2021-07-23","v":17.2},{"d":"2021-07-30","v":18.2},{"d":"2021-08-06","v":16.2},{"d":"2021-08-13","v":15.5},{"d":"2021-08-19","v":21.7},{"d":"2021-08-27","v":16.4},{"d":"2021-09-03","v":16.4},{"d":"2021-09-10","v":21.0},{"d":"2021-09-20","v":25.7},{"d":"2021-09-24","v":17.8},{"d":"2021-10-01","v":21.2},{"d":"2021-10-08","v":18.8},{"d":"2021-10-15","v":16.3},{"d":"2021-10-22","v":15.4},{"d":"2021-10-29","v":16.3},{"d":"2021-11-05","v":16.5},{"d":"2021-11-12","v":16.3},{"d":"2021-11-19","v":17.9},{"d":"2021-11-26","v":28.6},{"d":"2021-11-30","v":27.2},{"d":"2021-12-03","v":30.7},{"d":"2021-12-10","v":18.7},{"d":"2021-12-17","v":21.6},{"d":"2021-12-23","v":18.0},{"d":"2021-12-31","v":17.2},
{"d":"2022-01-07","v":18.8},{"d":"2022-01-14","v":19.2},{"d":"2022-01-21","v":28.9},{"d":"2022-01-27","v":30.5},{"d":"2022-02-04","v":22.9},{"d":"2022-02-11","v":27.4},{"d":"2022-02-18","v":27.8},{"d":"2022-02-24","v":30.3},{"d":"2022-03-04","v":32.0},{"d":"2022-03-07","v":36.5},{"d":"2022-03-11","v":30.8},{"d":"2022-03-18","v":23.9},{"d":"2022-03-25","v":20.8},{"d":"2022-04-01","v":19.6},{"d":"2022-04-08","v":21.2},{"d":"2022-04-14","v":22.7},{"d":"2022-04-22","v":28.2},{"d":"2022-04-29","v":33.4},{"d":"2022-05-06","v":30.2},{"d":"2022-05-09","v":34.8},{"d":"2022-05-13","v":28.9},{"d":"2022-05-20","v":29.4},{"d":"2022-05-27","v":25.7},{"d":"2022-06-03","v":24.8},{"d":"2022-06-13","v":34.0},{"d":"2022-06-17","v":31.1},{"d":"2022-06-24","v":27.2},{"d":"2022-06-30","v":28.7},{"d":"2022-07-08","v":24.6},{"d":"2022-07-15","v":24.2},{"d":"2022-07-22","v":23.0},{"d":"2022-07-29","v":21.3},{"d":"2022-08-05","v":21.2},{"d":"2022-08-12","v":19.5},{"d":"2022-08-19","v":20.6},{"d":"2022-08-26","v":25.6},{"d":"2022-09-02","v":25.5},{"d":"2022-09-09","v":22.8},{"d":"2022-09-16","v":26.3},{"d":"2022-09-23","v":29.9},{"d":"2022-09-29","v":31.8},{"d":"2022-10-07","v":31.4},{"d":"2022-10-12","v":33.6},{"d":"2022-10-21","v":29.7},{"d":"2022-10-28","v":25.8},{"d":"2022-11-04","v":24.6},{"d":"2022-11-10","v":23.5},{"d":"2022-11-18","v":23.1},{"d":"2022-11-25","v":20.5},{"d":"2022-12-02","v":19.1},{"d":"2022-12-09","v":22.8},{"d":"2022-12-16","v":22.6},{"d":"2022-12-23","v":20.9},{"d":"2022-12-30","v":21.7},
{"d":"2023-01-06","v":21.1},{"d":"2023-01-13","v":18.4},{"d":"2023-01-20","v":19.9},{"d":"2023-01-27","v":18.5},{"d":"2023-02-03","v":18.3},{"d":"2023-02-10","v":20.5},{"d":"2023-02-17","v":20.0},{"d":"2023-02-24","v":21.7},{"d":"2023-03-03","v":18.5},{"d":"2023-03-13","v":26.5},{"d":"2023-03-17","v":25.5},{"d":"2023-03-24","v":21.7},{"d":"2023-03-31","v":18.7},{"d":"2023-04-06","v":18.4},{"d":"2023-04-14","v":17.1},{"d":"2023-04-21","v":16.8},{"d":"2023-04-28","v":15.8},{"d":"2023-05-04","v":20.1},{"d":"2023-05-12","v":17.0},{"d":"2023-05-19","v":16.8},{"d":"2023-05-26","v":18.0},{"d":"2023-06-02","v":14.6},{"d":"2023-06-09","v":13.8},{"d":"2023-06-16","v":13.5},{"d":"2023-06-23","v":13.4},{"d":"2023-06-30","v":13.6},{"d":"2023-07-07","v":14.8},{"d":"2023-07-14","v":13.3},{"d":"2023-07-21","v":13.6},{"d":"2023-07-28","v":13.3},{"d":"2023-08-04","v":17.1},{"d":"2023-08-11","v":14.8},{"d":"2023-08-18","v":17.3},{"d":"2023-08-25","v":15.7},{"d":"2023-09-01","v":13.1},{"d":"2023-09-08","v":13.8},{"d":"2023-09-15","v":13.8},{"d":"2023-09-21","v":17.5},{"d":"2023-09-29","v":17.5},{"d":"2023-10-04","v":18.6},{"d":"2023-10-13","v":19.3},{"d":"2023-10-20","v":21.7},{"d":"2023-10-27","v":21.3},{"d":"2023-11-03","v":14.9},{"d":"2023-11-10","v":14.2},{"d":"2023-11-17","v":13.8},{"d":"2023-11-24","v":12.5},{"d":"2023-12-01","v":12.6},{"d":"2023-12-08","v":12.4},{"d":"2023-12-15","v":12.3},{"d":"2023-12-20","v":13.7},{"d":"2023-12-29","v":12.5},
{"d":"2024-01-05","v":13.4},{"d":"2024-01-12","v":12.7},{"d":"2024-01-19","v":13.3},{"d":"2024-01-26","v":13.3},{"d":"2024-01-31","v":14.4},{"d":"2024-02-09","v":12.9},{"d":"2024-02-13","v":15.9},{"d":"2024-02-16","v":14.2},{"d":"2024-02-23","v":13.8},{"d":"2024-03-01","v":13.1},{"d":"2024-03-08","v":14.7},{"d":"2024-03-15","v":14.4},{"d":"2024-03-22","v":13.1},{"d":"2024-03-28","v":13.0},{"d":"2024-04-05","v":16.0},{"d":"2024-04-12","v":17.3},{"d":"2024-04-19","v":19.2},{"d":"2024-04-26","v":15.0},{"d":"2024-05-03","v":13.5},{"d":"2024-05-10","v":12.6},{"d":"2024-05-17","v":12.0},{"d":"2024-05-24","v":11.9},{"d":"2024-05-31","v":12.9},{"d":"2024-06-07","v":12.2},{"d":"2024-06-14","v":12.7},{"d":"2024-06-21","v":13.2},{"d":"2024-06-28","v":12.4},{"d":"2024-07-05","v":12.5},{"d":"2024-07-12","v":12.5},{"d":"2024-07-19","v":16.5},{"d":"2024-07-24","v":18.0},{"d":"2024-07-26","v":16.4},{"d":"2024-08-02","v":23.4},{"d":"2024-08-05","v":38.6},{"d":"2024-08-07","v":27.9},{"d":"2024-08-09","v":20.4},{"d":"2024-08-16","v":14.8},{"d":"2024-08-23","v":15.9},{"d":"2024-08-30","v":15.0},{"d":"2024-09-06","v":22.4},{"d":"2024-09-13","v":16.6},{"d":"2024-09-20","v":16.2},{"d":"2024-09-27","v":17.0},{"d":"2024-10-04","v":19.2},{"d":"2024-10-11","v":20.5},{"d":"2024-10-18","v":18.0},{"d":"2024-10-25","v":20.3},{"d":"2024-10-31","v":23.2},{"d":"2024-11-08","v":15.2},{"d":"2024-11-15","v":16.1},{"d":"2024-11-22","v":15.2},{"d":"2024-11-29","v":13.5},{"d":"2024-12-06","v":12.8},{"d":"2024-12-13","v":13.8},{"d":"2024-12-18","v":27.6},{"d":"2024-12-20","v":18.4},{"d":"2024-12-27","v":16.0},{"d":"2024-12-31","v":17.4},
{"d":"2025-01-03","v":16.1},{"d":"2025-01-10","v":19.5},{"d":"2025-01-13","v":19.2},{"d":"2025-01-17","v":16.0},{"d":"2025-01-24","v":14.9},{"d":"2025-01-27","v":17.9},{"d":"2025-01-31","v":16.4},{"d":"2025-02-07","v":16.5},{"d":"2025-02-14","v":15.0},{"d":"2025-02-21","v":18.2},{"d":"2025-02-28","v":19.6},{"d":"2025-03-07","v":23.4},{"d":"2025-03-10","v":27.9},{"d":"2025-03-14","v":21.8},{"d":"2025-03-21","v":19.3},{"d":"2025-03-28","v":21.7},{"d":"2025-04-01","v":21.8},{"d":"2025-04-02","v":17.5},{"d":"2025-04-03","v":30.0},{"d":"2025-04-04","v":45.3}
    ],
    "threshold": [{"d": "2004-01-02", "e": "2025-04-04", "level": 46.7}]
  },
  "encoding": {
    "x": {
      "field": "d",
      "type": "temporal",
      "scale": {"type": "utc", "domain": [{"year": 2002, "month": 12, "date": 20, "utc": true}, {"year": 2026, "month": 4, "date": 20, "utc": true}]},
      "axis": {
        "title": null,
        "grid": false,
        "domain": false,
        "format": "%b %Y",
        "values": [{"year": 2004, "month": 1, "date": 1, "utc": true}, {"year": 2008, "month": 1, "date": 1, "utc": true}, {"year": 2012, "month": 1, "date": 1, "utc": true}, {"year": 2016, "month": 1, "date": 1, "utc": true}, {"year": 2020, "month": 1, "date": 1, "utc": true}, {"year": 2024, "month": 1, "date": 1, "utc": true}],
        "tickColor": "#bbbbbb",
        "tickSize": 4,
        "tickWidth": 1,
        "labelColor": "#cccccc",
        "labelFont": "DejaVu Sans",
        "labelFontSize": 11,
        "labelPadding": 1
      }
    }
  },
  "layer": [
    {
      "data": {"name": "vix"},
      "mark": {"type": "line", "color": "#ff0000", "strokeWidth": 3, "strokeJoin": "round", "clip": true},
      "encoding": {
        "y": {
          "field": "v",
          "type": "quantitative",
          "scale": {"domain": [5.48, 86.46], "nice": false, "zero": false},
          "axis": {
            "orient": "left",
            "values": [10, 20, 30, 40, 50, 60, 70, 80],
            "grid": false,
            "domainColor": "#9a9a9a",
            "domainWidth": 1.5,
            "tickColor": "#cc0000",
            "tickSize": 4,
            "labelColor": "#cc0000",
            "labelFont": "DejaVu Sans",
            "labelFontSize": 11,
            "labelPadding": 3,
            "title": "VIX",
            "titleColor": "#ff0000",
            "titleFont": "DejaVu Sans",
            "titleFontSize": 28,
            "titleFontWeight": "normal",
            "titleX": -43,
            "titleBaseline": "middle"
          }
        }
      }
    },
    {
      "data": {"name": "threshold"},
      "mark": {"type": "rule", "color": "white", "strokeWidth": 3, "strokeDash": [12.5, 7.5]},
      "encoding": {
        "x2": {"field": "e"},
        "y": {
          "field": "level",
          "type": "quantitative",
          "scale": {"domain": [5.48, 86.46], "nice": false, "zero": false},
          "axis": {
            "orient": "right",
            "title": null,
            "labels": false,
            "ticks": false,
            "grid": false,
            "domainColor": "#9a9a9a",
            "domainWidth": 1.5
          }
        }
      }
    }
  ],
  "resolve": {"axis": {"y": "independent"}}
}
